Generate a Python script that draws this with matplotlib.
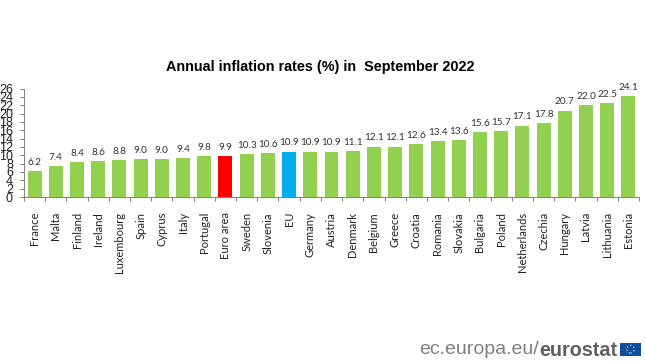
import matplotlib
matplotlib.use("Agg")
import matplotlib.pyplot as plt
import matplotlib.patches as patches
import numpy as np

countries = ["France", "Malta", "Finland", "Ireland", "Luxembourg", "Spain", "Cyprus", "Italy",
             "Portugal", "Euro area", "Sweden", "Slovenia", "EU", "Germany", "Austria", "Denmark",
             "Belgium", "Greece", "Croatia", "Romania", "Slovakia", "Bulgaria", "Poland",
             "Netherlands", "Czechia", "Hungary", "Latvia", "Lithuania", "Estonia"]
rates = [6.2, 7.4, 8.4, 8.6, 8.8, 9.0, 9.0, 9.4, 9.8, 9.9, 10.3, 10.6, 10.9, 10.9, 10.9, 11.1,
         12.1, 12.1, 12.6, 13.4, 13.6, 15.6, 15.7, 17.1, 17.8, 20.7, 22.0, 22.5, 24.1]
y_ticks = list(range(0, 27, 2))

W, H = 645, 363
plt.rcParams['font.family'] = ['Lato', 'DejaVu Sans']

fig = plt.figure(figsize=(W / 100, H / 100), dpi=100)
ax = fig.add_axes([24 / W, 1 - 197 / H, 615 / W, 108.5 / H])

# colours: euro area red, EU blue, the rest green
colors = []
for c in countries:
    if c == "Euro area":
        colors.append('#ff0000')
    elif c == "EU":
        colors.append('#00aeef')
    else:
        colors.append('#92d050')

x = np.arange(len(countries))
ax.bar(x, rates, width=0.66, color=colors)
for i, v in enumerate(rates):
    ax.text(i, v + 1.0, f"{v:.1f}", ha='center', va='bottom', fontsize=7.2, color='#333333')

ax.set_xlim(-0.5, len(countries) - 0.5)
ax.set_ylim(0, 26)
ax.set_yticks(y_ticks)
ax.set_yticklabels([str(t) for t in y_ticks], fontsize=9, color='#222222',
                   family=['Liberation Sans', 'DejaVu Sans'])
ax.set_xticks(np.arange(len(countries) + 1) - 0.5)
ax.set_xticklabels([])
ax.tick_params(axis='x', length=3, width=0.7, color='#808080')
ax.tick_params(axis='y', length=3, width=0.7, color='#808080', pad=5)
for i, c in enumerate(countries):
    ax.annotate(c, (i, 0), xytext=(0, -15), xycoords=('data', 'axes fraction'),
                textcoords='offset pixels', rotation=90, ha='center', va='top',
                fontsize=8, color='#222222')
for s in ['top', 'right']:
    ax.spines[s].set_visible(False)
for s in ['left', 'bottom']:
    ax.spines[s].set_color('#808080')
    ax.spines[s].set_linewidth(0.7)

fig.text(320 / W, 1 - 67 / H, "Annual inflation rates (%) in  September 2022", ha='center', va='center',
         fontsize=10.4, fontweight='bold', color='black', family=['Liberation Sans', 'DejaVu Sans'])

# footer
fig.text(539 / W, 1 - 350 / H, "ec.europa.eu/", ha='right', va='center', fontsize=14, color='#7f7f7f',
         family=['Liberation Sans', 'DejaVu Sans'])
fig.text(539 / W, 1 - 350 / H, "eurostat", ha='left', va='center', fontsize=14.2, fontweight='bold',
         color='#5f5f5f', family=['Liberation Sans', 'DejaVu Sans'])

# EU flag
flag = fig.add_axes([620 / W, 1 - 355.5 / H, 21 / W, 12.5 / H])
flag.set_xlim(0, 21)
flag.set_ylim(0, 12.5)
flag.axis('off')
flag.add_patch(patches.Rectangle((0, 0), 21, 12.5, facecolor='#0b4ea2', edgecolor='none'))
flag.add_patch(patches.Circle((10.5, 6.25), 3.8, facecolor='none', edgecolor='#c9c46a', linewidth=1, linestyle=':'))

fig.savefig("out.png", dpi=100, facecolor='white')
